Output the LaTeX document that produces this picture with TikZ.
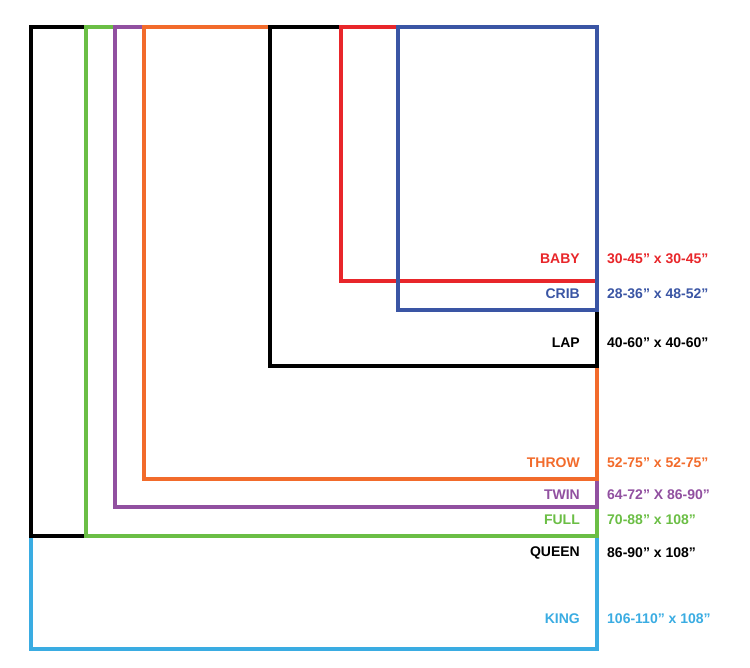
\documentclass[tikz,border=0pt]{standalone}
\usepackage{fontspec}
\setmainfont[Ligatures=ResetAll]{Liberation Sans}
\newcommand\qq{\symbol{34}}
\definecolor{cbaby}{HTML}{E8262A}
\definecolor{ccrib}{HTML}{3A55A4}
\definecolor{cthrow}{HTML}{F26B2B}
\definecolor{ctwin}{HTML}{9150A0}
\definecolor{cfull}{HTML}{6BBE45}
\definecolor{cking}{HTML}{3AACE2}
\begin{document}
\begin{tikzpicture}[x=1pt,y=-1pt,
  quilt/.style={line width=4.5pt},
  nm/.style={anchor=east,font=\bfseries\fontsize{14}{14}\selectfont,inner sep=0},
  sz/.style={anchor=west,font=\bfseries\fontsize{14}{14}\selectfont,inner sep=0}]
\useasboundingbox (0,0) rectangle (750,668);
\draw[quilt,cking] (31,27) rectangle (597,649);
\draw[quilt,black] (31,27) rectangle (597,536);
\draw[quilt,cfull] (86,27) rectangle (597,536);
\draw[quilt,ctwin] (115,27) rectangle (597,507);
\draw[quilt,cthrow] (144,27) rectangle (597,479);
\draw[quilt,black] (270,27) rectangle (597,366);
\draw[quilt,cbaby] (341,27) rectangle (597,281);
\draw[quilt,ccrib] (398,27) rectangle (597,310);
\node[nm,cbaby] (n1) at (580,259) {BABY};
\node[sz,cbaby] (s1) at (607,259) {30-45\qq{} x 30-45\qq};
\node[nm,ccrib] (n2) at (580,294) {CRIB};
\node[sz,ccrib] (s2) at (607,294) {28-36\qq{} x 48-52\qq};
\node[nm,black] (n3) at (580,343) {LAP};
\node[sz,black] (s3) at (607,343) {40-60\qq{} x 40-60\qq};
\node[nm,cthrow] (n4) at (580,463) {THROW};
\node[sz,cthrow] (s4) at (607,463) {52-75\qq{} x 52-75\qq};
\node[nm,ctwin] (n5) at (580,495) {TWIN};
\node[sz,ctwin] (s5) at (607,495) {64-72\qq{} X 86-90\qq};
\node[nm,cfull] (n6) at (580,520) {FULL};
\node[sz,cfull] (s6) at (607,520) {70-88\qq{} x 108\qq};
\node[nm,black] (n7) at (580,553) {QUEEN};
\node[sz,black] (s7) at (607,553) {86-90\qq{} x 108\qq};
\node[nm,cking] (n8) at (580,619) {KING};
\node[sz,cking] (s8) at (607,619) {106-110\qq{} x 108\qq};
\end{tikzpicture}
\end{document}
